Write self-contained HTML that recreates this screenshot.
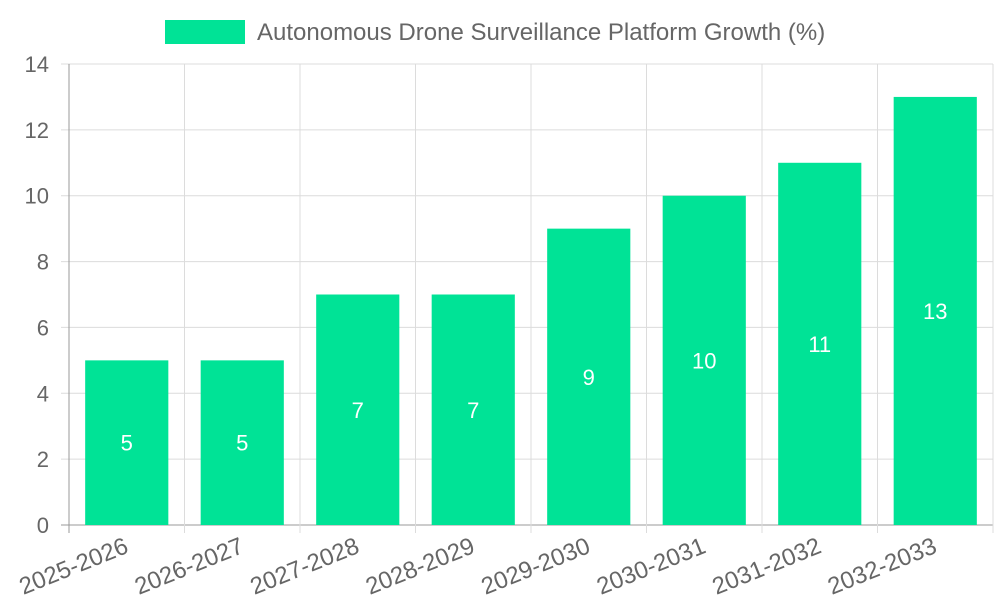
<!DOCTYPE html>
<html><head><meta charset="utf-8"><style>
html,body{margin:0;padding:0;background:#fff;}
svg{display:block;font-family:"Liberation Sans",sans-serif;}
</style></head><body>
<svg id="chart" width="1000" height="600" viewBox="0 0 1000 600" xmlns="http://www.w3.org/2000/svg">
<g id="legend">
<rect x="165" y="20" width="80" height="24" fill="#00e396"/>
<text x="257" y="40" font-size="24" fill="#666">Autonomous Drone Surveillance Platform Growth (%)</text>
</g>
<g id="grid"></g><g id="bars"></g><g id="axes"></g>
</svg>
<script>
const categories=["2025-2026","2026-2027","2027-2028","2028-2029","2029-2030","2030-2031","2031-2032","2032-2033"];
const values=[5,5,7,7,9,10,11,13];
const yTicks=[0,2,4,6,8,10,12,14];
const NS="http://www.w3.org/2000/svg";
const L=69,R=993,T=64,B=525,yMax=14;
const bw=(R-L)/categories.length;
const y=v=>B-(v/yMax)*(B-T);
const x=i=>L+i*bw;
function mk(tag,attrs,parent,text){const e=document.createElementNS(NS,tag);for(const k in attrs)e.setAttribute(k,attrs[k]);if(text!==undefined)e.textContent=text;parent.appendChild(e);return e;}
const grid=document.getElementById('grid'),bars=document.getElementById('bars'),axes=document.getElementById('axes');
yTicks.forEach(t=>{
 const ln=mk('line',{x1:L-8,x2:R,y1:y(t),y2:y(t),stroke:t===0?'#999':'#dcdcdc','stroke-width':1},grid);
 
 
 const tx=mk('text',{x:L-20,y:y(t)+8,'text-anchor':'end','font-size':22,fill:'#666'},axes,String(t));
 
 
});
for(let i=0;i<=categories.length;i++){
 const ln=mk('line',{x1:x(i),x2:x(i),y1:T,y2:B+8,stroke:i===0?'#999':'#dcdcdc','stroke-width':1},grid);
 
 
}
categories.forEach((c,i)=>{
 const cx=x(i)+bw/2,w=bw*0.72;
 const r=mk('rect',{x:cx-w/2,y:y(values[i]),width:w,height:B-y(values[i]),fill:'#00e396'},bars);
 
 
 const vt=mk('text',{x:cx,y:(y(values[i])+B)/2+8,'text-anchor':'middle','font-size':22,fill:'#fff'},bars,String(values[i]));
 
 
 const lx=cx+3,ly=B+27;
 const lt=mk('text',{x:lx,y:ly,'text-anchor':'end','font-size':24,fill:'#666',transform:`rotate(-22 ${lx} ${ly})`},axes,c);
 
 
});
</script>
</body></html>
